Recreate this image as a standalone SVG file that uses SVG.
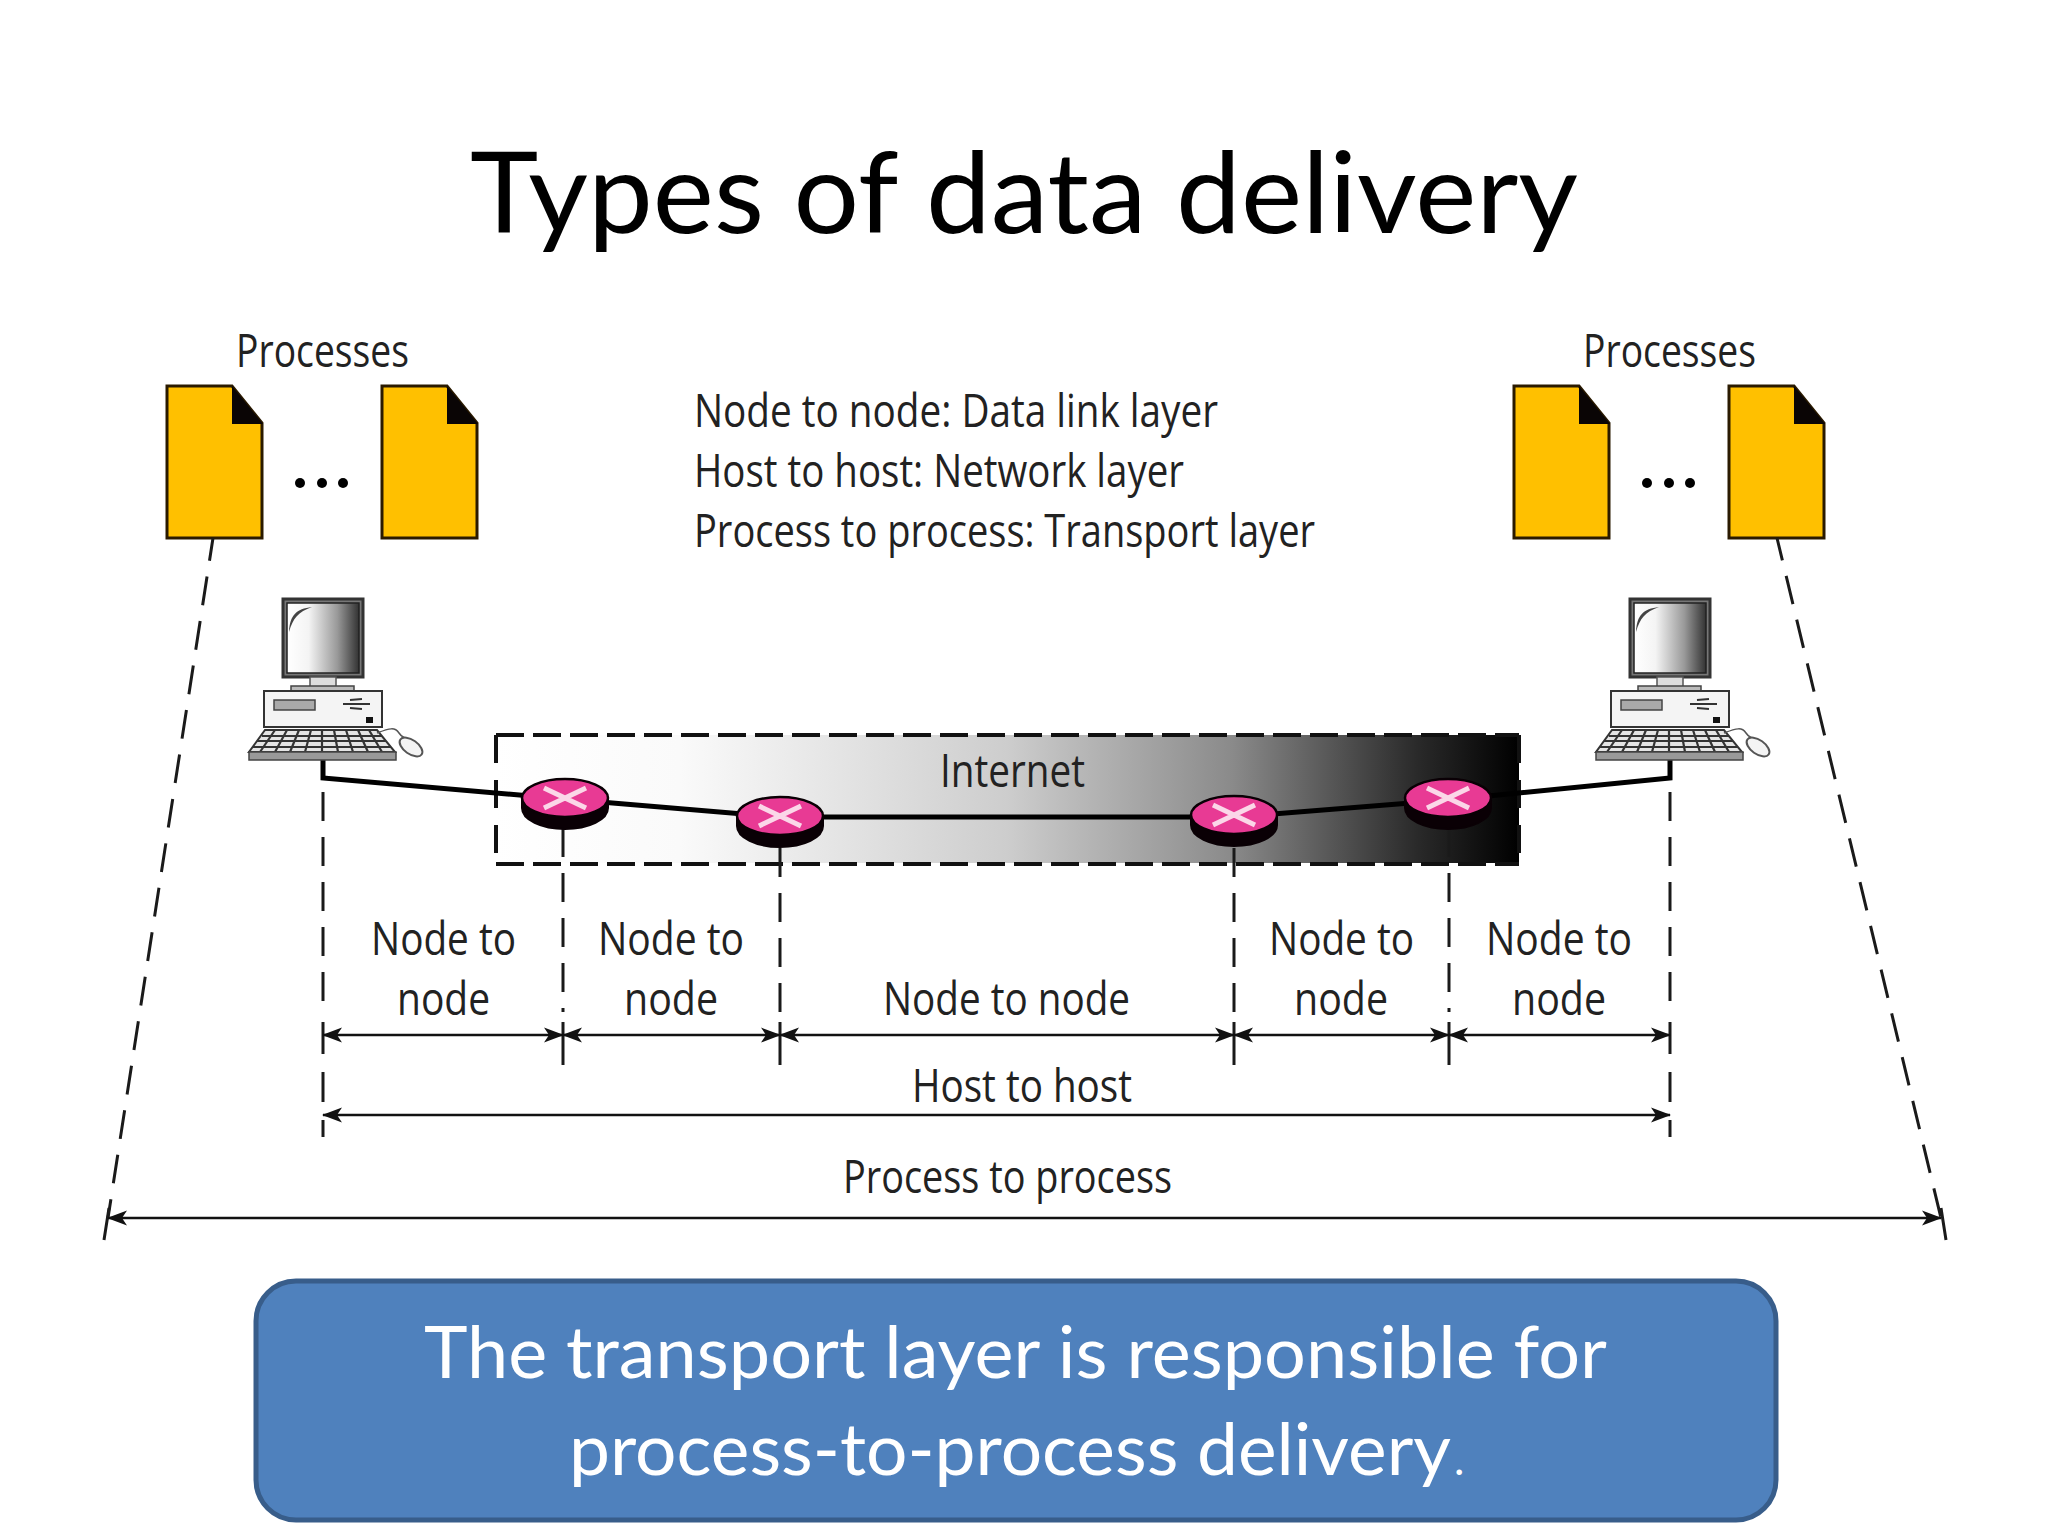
<svg xmlns="http://www.w3.org/2000/svg" xmlns:xlink="http://www.w3.org/1999/xlink" width="2048" height="1536" viewBox="0 0 2048 1536">
<style>
.lb{font-family:"Open Sans","Noto Sans","Liberation Sans",sans-serif;font-size:46px;fill:#222;}
.sl{font-family:Lato,"Liberation Sans",sans-serif;}
.dash{fill:none;stroke:#1a1a1a;stroke-width:3;stroke-dasharray:29 16;}
.dim{fill:none;stroke:#111;stroke-width:2.5;marker-end:url(#ah);marker-start:url(#ah);}
.tick{stroke:#1a1a1a;stroke-width:3;fill:none;}
.doc{fill:#ffc000;stroke:#2a1a00;stroke-width:3;}
.fold{fill:#0a0505;}
.inet{fill:none;stroke:#111;stroke-width:4;}
</style>
<defs>
<marker id="ah" viewBox="0 0 20 16" refX="19" refY="8" markerWidth="20" markerHeight="16" markerUnits="userSpaceOnUse" orient="auto-start-reverse">
<path d="M0,0.5 L20,8 L0,15.5 L5,8 Z" fill="#111"/>
</marker>
<linearGradient id="inetg" x1="0" x2="1" y1="0" y2="0">
<stop offset="0" stop-color="#fff"/><stop offset="0.18" stop-color="#fafafa"/><stop offset="0.5" stop-color="#cdcdcd"/><stop offset="0.72" stop-color="#8a8a8a"/><stop offset="0.9" stop-color="#2a2a2a"/><stop offset="1" stop-color="#000"/>
</linearGradient>
<linearGradient id="scr" x1="0" x2="1" y1="0" y2="0">
<stop offset="0" stop-color="#fff"/><stop offset="0.3" stop-color="#f4f4f4"/><stop offset="0.7" stop-color="#999"/><stop offset="1" stop-color="#333"/>
</linearGradient>
<g id="router">
<path d="M-43,0 V10 A43,21 0 0 0 43,10 V0 Z" fill="#0a0005" stroke="#0a0005" stroke-width="2"/>
<ellipse cx="0" cy="0" rx="43" ry="19" fill="#e83a94" stroke="#0a0005" stroke-width="2.5"/>
<path d="M-21,-10 L21,10 M21,-10 L-21,10" stroke="#fbd7e8" stroke-width="5" fill="none"/>
</g>
<g id="pc">
<rect x="283" y="599" width="80" height="78" fill="#777" stroke="#333" stroke-width="3"/>
<rect x="287" y="603" width="72" height="70" fill="url(#scr)" stroke="#222" stroke-width="1.5"/>
<path d="M289,632 C290,615 296,609 312,607 C298,612 293,618 289,632 Z" fill="#444"/>
<rect x="310" y="677" width="26" height="10" fill="#ddd" stroke="#555" stroke-width="1.5"/>
<rect x="291" y="686" width="63" height="5" fill="#bbb" stroke="#444" stroke-width="1.5"/>
<rect x="264" y="691" width="118" height="36" fill="#f4f4f4" stroke="#333" stroke-width="2"/>
<rect x="274" y="700" width="41" height="10" fill="#aaa" stroke="#444" stroke-width="1.5"/>
<path d="M343,704 H370 M350,700 L362,699 M350,708 L362,709" stroke="#333" stroke-width="2.2" fill="none"/>
<rect x="366" y="717" width="7" height="6" fill="#111"/>
<path d="M265,730 H377 L395,752 H249 Z" fill="#e4e4e4" stroke="#333" stroke-width="2"/>
<path d="M262,736 H382 M257,741 H386 M253,747 H391 M275,730 L260,752 M287,730 L275,752 M299,730 L290,752 M311,730 L305,752 M322,730 L322,752 M334,730 L338,752 M346,730 L353,752 M358,730 L368,752 M369,730 L382,752" stroke="#333" stroke-width="2.2" fill="none"/>
<rect x="249" y="752" width="147" height="8" fill="#999" stroke="#444" stroke-width="1.5"/>
<path d="M377,733 C390,728 395,727 399,733 C402,738 405,737 409,741" fill="none" stroke="#555" stroke-width="1.5"/>
<ellipse cx="411" cy="747" rx="13" ry="7" transform="rotate(35 411 747)" fill="#f4f4f4" stroke="#555" stroke-width="2"/>
</g>
<g id="docpair">
<path class="doc" d="M167,386 H232 L262,423 V538 H167 Z"/>
<path class="fold" d="M232,386 L263,424 H232 Z"/>
<path class="doc" d="M382,386 H447 L477,423 V538 H382 Z"/>
<path class="fold" d="M447,386 L478,424 H447 Z"/>
<circle cx="300" cy="483" r="5"/><circle cx="322" cy="483" r="5"/><circle cx="343" cy="483" r="5"/>
</g>
</defs>
<rect width="2048" height="1536" fill="#fff"/>
<text id="title" class="sl" x="470" y="233" font-size="112" fill="#000" textLength="1108" lengthAdjust="spacingAndGlyphs">Types of data delivery</text>

<g id="processes-left">
<use href="#docpair"/>
<text class="lb" x="236" y="367" textLength="173" lengthAdjust="spacingAndGlyphs">Processes</text>
</g>
<g id="processes-right">
<use href="#docpair" x="1347"/>
<text class="lb" x="1583" y="367" textLength="173" lengthAdjust="spacingAndGlyphs">Processes</text>
</g>
<g id="legend">
<text class="lb" x="694" y="427" textLength="524" lengthAdjust="spacingAndGlyphs">Node to node: Data link layer</text>
<text class="lb" x="694" y="487" textLength="490" lengthAdjust="spacingAndGlyphs">Host to host: Network layer</text>
<text class="lb" x="694" y="547" textLength="621" lengthAdjust="spacingAndGlyphs">Process to process: Transport layer</text>
</g>

<g id="internet">
<rect x="496" y="735" width="1023" height="128" fill="url(#inetg)"/>
<path class="inet" stroke-dasharray="28 9" d="M496,735 H1519 M496,864 H1519"/>
<path class="inet" stroke-dasharray="28 17" d="M496,735 V864 M1519,735 V864"/>
<text class="lb" x="940" y="787" textLength="145" lengthAdjust="spacingAndGlyphs">Internet</text>
</g>

<g id="connectors">
<path class="dash" d="M323,792 V1012"/>
<path class="dash" d="M1670,792 V1012"/>
<path class="tick" d="M323,1022 V1054 M323,1072 V1102 M323,1120 V1137 M1670,1022 V1054 M1670,1072 V1102 M1670,1120 V1137"/>
<path class="dash" d="M563,828 V1012"/>
<path class="dash" d="M780,848 V1012"/>
<path class="dash" d="M1234,848 V1012"/>
<path class="dash" d="M1449,828 V1012"/>
<path class="tick" d="M563,1022 V1065 M780,1022 V1065 M1234,1022 V1065 M1449,1022 V1065"/>
<path class="dash" d="M213,538 L108,1218" stroke-dashoffset="6"/>
<path class="dash" d="M1777,538 L1941,1218" stroke-dashoffset="6"/>
<path class="tick" d="M109,1208 L104,1240 M1941,1208 L1946,1240"/>
<path d="M323,760 V778 L565,799 L780,817 H1234 L1448,800 L1670,778 V760" fill="none" stroke="#000" stroke-width="5"/>
<path class="dim" d="M323,1035 H563"/>
<path class="dim" d="M563,1035 H780"/>
<path class="dim" d="M780,1035 H1234"/>
<path class="dim" d="M1234,1035 H1449"/>
<path class="dim" d="M1449,1035 H1670"/>
<path class="dim" d="M323,1115 H1670"/>
<path class="dim" d="M108,1218 H1941"/>
</g>

<g id="router-1"><use href="#router" x="565" y="798"/></g>
<g id="router-2"><use href="#router" x="780" y="816"/></g>
<g id="router-3"><use href="#router" x="1234" y="815"/></g>
<g id="router-4"><use href="#router" x="1448" y="798"/></g>

<g id="host-left"><use href="#pc"/></g>
<g id="host-right"><use href="#pc" x="1347"/></g>

<g id="labels">
<text class="lb" x="371" y="955" textLength="145" lengthAdjust="spacingAndGlyphs">Node to</text>
<text class="lb" x="397" y="1015" textLength="93" lengthAdjust="spacingAndGlyphs">node</text>
<text class="lb" x="598" y="955" textLength="146" lengthAdjust="spacingAndGlyphs">Node to</text>
<text class="lb" x="624" y="1015" textLength="94" lengthAdjust="spacingAndGlyphs">node</text>
<text class="lb" x="883" y="1015" textLength="247" lengthAdjust="spacingAndGlyphs">Node to node</text>
<text class="lb" x="1269" y="955" textLength="145" lengthAdjust="spacingAndGlyphs">Node to</text>
<text class="lb" x="1294" y="1015" textLength="94" lengthAdjust="spacingAndGlyphs">node</text>
<text class="lb" x="1486" y="955" textLength="146" lengthAdjust="spacingAndGlyphs">Node to</text>
<text class="lb" x="1512" y="1015" textLength="94" lengthAdjust="spacingAndGlyphs">node</text>
<text class="lb" x="912" y="1102" textLength="220" lengthAdjust="spacingAndGlyphs">Host to host</text>
<text class="lb" x="843" y="1193" textLength="329" lengthAdjust="spacingAndGlyphs">Process to process</text>
</g>

<g id="callout">
<rect x="256" y="1281" width="1520" height="239" rx="40" fill="#4f81bd" stroke="#385d8a" stroke-width="5"/>
<text class="sl" x="424" y="1378" font-size="71" fill="#fff" textLength="1183" lengthAdjust="spacingAndGlyphs">The transport layer is responsible for</text>
<text class="sl" x="569" y="1475" font-size="71" fill="#fff" textLength="882" lengthAdjust="spacingAndGlyphs">process-to-process delivery</text>
<text class="sl" x="1454" y="1475" font-size="44" fill="#fff">.</text>
</g>
</svg>
